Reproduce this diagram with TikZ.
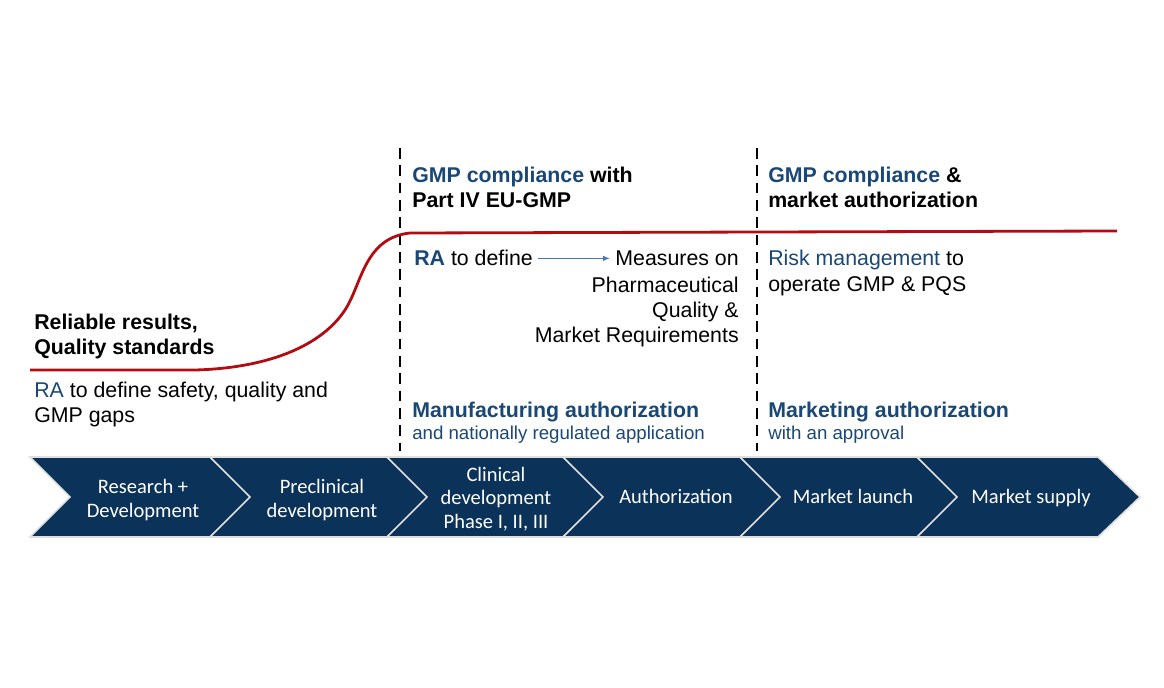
\documentclass[tikz,border=0pt]{standalone}
\usepackage{fontspec}
\setmainfont{Liberation Sans}
\newfontfamily\chevfont{Carlito}
\usetikzlibrary{arrows.meta}
\definecolor{navy}{RGB}{11,50,88}
\definecolor{tblue}{RGB}{26,72,118}
\definecolor{darkred}{RGB}{178,12,18}
\definecolor{arrowblue}{RGB}{68,114,196}
\begin{document}
\begin{tikzpicture}[x=0.75pt,y=-0.75pt,
  txt/.style={font=\fontsize{16}{19.3}\selectfont, inner sep=0pt, anchor=base west},
  txtb/.style={txt, font=\fontsize{16}{19.3}\selectfont\bfseries},
  txtr/.style={txt, anchor=base east},
  smalltxt/.style={font=\fontsize{14}{17}\selectfont, inner sep=0pt, anchor=base west, text=tblue},
  chev/.style={fill=navy, draw=white!75!gray, line width=1.2pt, line join=miter},
  chevtext/.style={font=\chevfont\fontsize{15.4}{17.4}\selectfont, text=white, align=center, inner sep=0pt},
  divider/.style={draw=black, line width=1.5pt, dash pattern=on 8pt off 5pt},
  redline/.style={draw=darkred, line width=2.1pt},
  smallarrow/.style={draw=arrowblue, line width=0.8pt, -{Latex[length=5pt,width=4pt]}}
]
\useasboundingbox (0,0) rectangle (1164,688);

% process chevrons
\foreach \L/\R/\c/\cy/\an/\t [count=\i] in {
  30/210/143/500/center/{Research +\\Development},
  210/387/322/500/center/{Preclinical\\development},
  387/563/496/499/center/{Clinical\\development\\Phase I, II, III},
  563/740/676/503.5/base/{Authorization},
  740/917/853/503.5/base/{Market launch},
  917/1098/1031/503.5/base/{Market supply}}{
  \filldraw[chev] (\L,457) -- (\R,457) -- ({\R+42},497) -- (\R,537) -- (\L,537) -- ({\L+40},497) -- cycle;
  \node[chevtext, anchor=\an] (c\i) at (\c,\cy) {\t};
}

% dashed dividers
\coordinate (d1top) at (400,148);
\coordinate (d1bot) at (400,451);
\coordinate (d2top) at (757,148);
\coordinate (d2bot) at (757,451);
\draw[divider] (d1top) -- (d1bot);
\draw[divider] (d2top) -- (d2bot);

% red curve
\coordinate (r0) at (30,370);
\coordinate (r1) at (195,370);
\coordinate (r2) at (345,310);
\coordinate (r3) at (410,233);
\coordinate (r4) at (1117,231);
\draw[redline] (r0) -- (r1) .. controls (270,368) and (322,345) .. (r2)
  .. controls (362,284) and (364,238) .. (r3) -- (r4);

% left column
\node[txtb] (rel1) at (34,329) {Reliable results,};
\node[txtb] (rel2) at (34,354) {Quality standards};
\node[txt] (ra1) at (34,397) {\textcolor{tblue}{RA} to define safety, quality and};
\node[txt] (ra1b) at (34,422) {GMP gaps};

% middle column
\node[txtb] (g1) at (412,183) {\textcolor{tblue}{GMP compliance} with};
\node[txtb] (g1b) at (412,208) {Part IV EU-GMP};
\node[txt] (ra2) at (414,266) {\textcolor{tblue}{\bfseries RA} to define};
\node[txtr] (m1) at (739,266) {Measures on};
\node[txtr] (m2) at (739,292) {Pharmaceutical};
\node[txtr] (m3) at (739,317) {Quality \&};
\node[txtr] (m4) at (739,342) {Market Requirements};
\draw[smallarrow] ([xshift=4pt]ra2.east) -- ([xshift=-4pt]ra2.east -| m1.west);
\node[txtb, text=tblue] (ma1) at (412,417) {Manufacturing authorization};
\node[smalltxt] (ma2) at (412,439.5) {and nationally regulated application};

% right column
\node[txtb] (g2) at (768,183) {\textcolor{tblue}{GMP compliance} \&};
\node[txtb] (g2b) at (768,208) {market authorization};
\node[txt] (rm1) at (768,265) {\textcolor{tblue}{Risk management} to};
\node[txt] (rm2) at (768,291) {operate GMP \& PQS};
\node[txtb, text=tblue] (mk1) at (768,417) {Marketing authorization};
\node[smalltxt] (mk2) at (768,439.5) {with an approval};
\end{tikzpicture}
\end{document}
